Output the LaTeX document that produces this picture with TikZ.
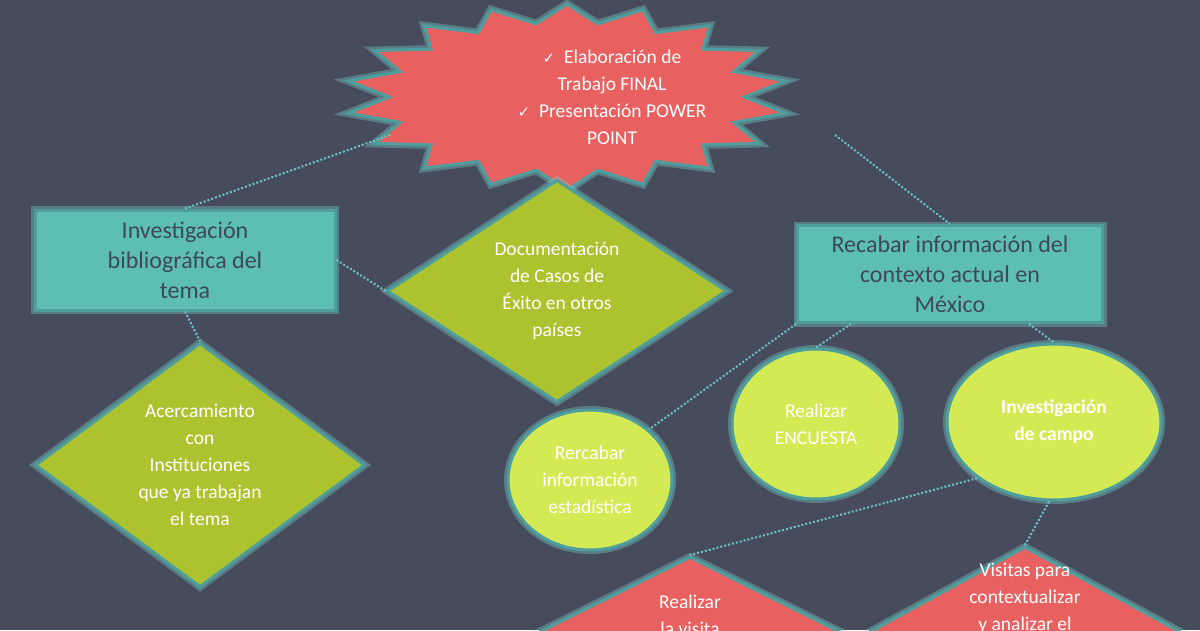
\documentclass[tikz,border=0pt]{standalone}
\usepackage{fontspec}
\setmainfont{Carlito}
\newfontfamily\symf{DejaVu Sans}
\usetikzlibrary{shapes.geometric}
\definecolor{bg}{HTML}{464C5C}
\definecolor{redf}{HTML}{E8605F}
\definecolor{teal}{HTML}{5DBFB4}
\definecolor{olive}{HTML}{ADC22F}
\definecolor{lime}{HTML}{D4EA55}
\definecolor{rim}{HTML}{4E9E9E}
\definecolor{glow}{HTML}{7FD6D2}
\definecolor{dtxt}{HTML}{3E4858}
\definecolor{dotc}{HTML}{6CC3C6}
\tikzset{
 glowy/.style={preaction={draw=glow,draw opacity=0.35,line width=8pt}},
 shp/.style={glowy,draw=rim,line width=3pt,align=center,inner sep=0pt,text=white,font=\fontsize{19.5}{27}\selectfont},
 rectbox/.style={shp,rectangle,fill=teal,text=dtxt,font=\fontsize{24}{30}\selectfont},
 olivedia/.style={shp,diamond,fill=olive},
 reddia/.style={shp,diamond,fill=redf},
 limeell/.style={shp,ellipse,fill=lime},
 wtxt/.style={align=center,inner sep=0pt,text=white,font=\fontsize{19.5}{27}\selectfont},
 conn/.style={dotc,line width=2pt,dotted},
}
\begin{document}
\begin{tikzpicture}[x=1pt,y=-1pt]
\fill[bg] (0,0) rectangle (1200,630);
\clip (0,0) rectangle (1200,630);
% star
\begin{scope}[shift={(567,97)},xscale=222,yscale=93]
\path[glowy,fill=redf,draw=rim,line width=3pt] (90:1) \foreach \i in {1,...,35}{ -- ({90+\i*10}:{ifthenelse(mod(\i,2)==0,1,0.8)})} -- cycle;
\end{scope}
\node[wtxt] (star) at (612,97)
 {{\symf\fontsize{15}{27}\selectfont ✓}\ \ Elaboración de\\Trabajo FINAL\\{\symf\fontsize{15}{27}\selectfont ✓}\ \ Presentación POWER\\POINT};
\coordinate (sL) at (390,135);
\coordinate (sR) at (835,135);
% nodes
\node[rectbox,minimum width=300pt,minimum height=100pt] (r1) at (185,260) {Investigación\\bibliográfica del\\tema};
\node[rectbox,minimum width=305pt,minimum height=97pt] (r2) at (950,274) {Recabar información del\\contexto actual en\\México};
\node[olivedia,minimum width=340pt,minimum height=162pt] (d1) at (557,291) {Documentación\\de Casos de\\Éxito en otros\\países};
\node[olivedia,minimum width=330pt,minimum height=235pt] (d2) at (200,465) {Acercamiento\\con\\Instituciones\\que ya trabajan\\el tema};
\node[limeell,minimum width=164pt,minimum height=140pt] (c1) at (590,480) {Rercabar\\información\\estadística};
\node[limeell,minimum width=168pt,minimum height=150pt] (c2) at (816,424) {Realizar\\ENCUESTA};
\node[limeell,minimum width=214pt,minimum height=156pt,font=\bfseries\fontsize{19.5}{27}\selectfont] (c3) at (1054,422) {Investigación\\de campo};
\node[reddia,minimum width=300pt,minimum height=150pt,anchor=north] (e1) at (690,555) {};
\node[wtxt,anchor=north] (e1t) at (690,595) {Realizar\\la visita};
\node[reddia,minimum width=310pt,minimum height=170pt,anchor=north] (e2) at (1025,545) {};
\node[wtxt,anchor=north] (e2t) at (1025,563) {Visitas para\\contextualizar\\y analizar el};
% connectors
\draw[conn] (sL) -- (r1.north);
\draw[conn] (sR) -- (r2.north);
\draw[conn] (r1.east) -- (d1.west);
\draw[conn] (r1.south) -- (d2.north);
\draw[conn] (r2.south west) -- (c1.north east);
\draw[conn] ([xshift=55pt]r2.south west) -- (c2.north);
\draw[conn] ([xshift=-75pt]r2.south east) -- (c3.north);
\draw[conn] (c3.south west) -- (e1.north);
\draw[conn] ([xshift=-5pt]c3.south) -- (e2.north);
\end{tikzpicture}
\end{document}
